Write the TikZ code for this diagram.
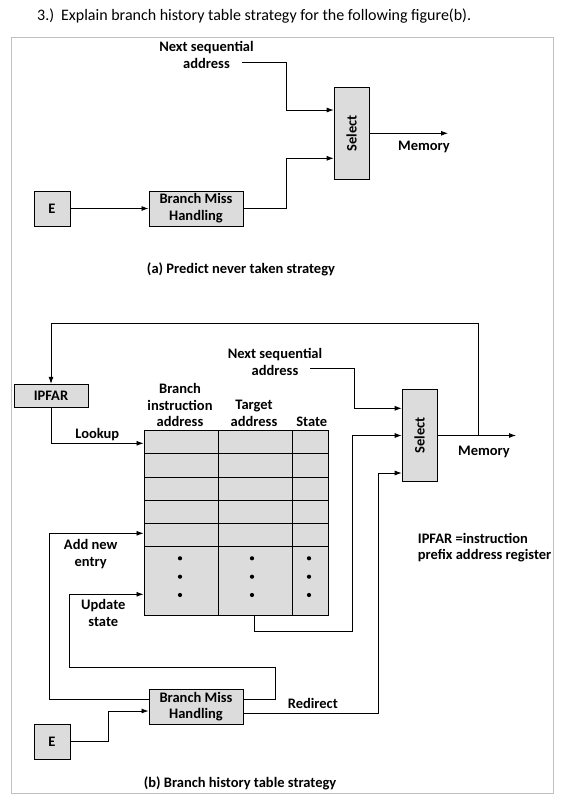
\documentclass[tikz,border=0pt]{standalone}
\usepackage{fontspec}
\setmainfont{Carlito}
\usetikzlibrary{arrows.meta,positioning,calc}
\definecolor{boxgray}{RGB}{220,220,220}
\definecolor{framegray}{RGB}{192,192,192}
\newcommand\lblfont{\bfseries\fontsize{14.5}{16.8}\selectfont}
\begin{document}
\begin{tikzpicture}[x=1pt,y=1pt,
    blk/.style={draw, line width=1pt, fill=boxgray, inner sep=0pt, align=center, font=\lblfont},
    lbl/.style={inner sep=0pt, align=center, font=\lblfont},
    wire/.style={line width=0.8pt},
    arr/.style={wire, -{Latex[length=7pt,width=5pt]}}]
      \useasboundingbox (0,0) rectangle (561,-801);
      \node[anchor=west, inner sep=0pt, font=\fontsize{16}{18}\selectfont] (title) at (37,-16)
        {3.)\hspace{7pt}Explain branch history table strategy for the following figure(b).};
      \draw[framegray, line width=1pt] (11,-37) rectangle (553,-793);

      % (a) predict never taken
      \node[blk, minimum width=36, minimum height=35] (Ea) at (52,-208.5) {E};
      \node[blk, minimum width=94, minimum height=35] (bmha) at (196,-208.5) {Branch Miss\\Handling};
      \node[blk, minimum width=35, minimum height=92] (sela) at (351.7,-133.3) {\rotatebox{90}{Select}};
      \node[lbl] (nsa) at (206.5,-54.7) {Next sequential\\address};
      \node[lbl] (mema) at (424,-147.3) {Memory};
      \node[lbl] (capa) at (241,-269.3) {(a) Predict never taken strategy};
      \coordinate (nsaout) at (242,-62);
      \coordinate (memouta) at (448,-133.3);

      \draw[arr] (Ea) -- (bmha);
      \draw[arr] (nsaout) -- ++(44.3,0) |- ([yshift=23.3]sela.west);
      \draw[arr] (bmha.east) -- ++(43.3,0) |- ([yshift=-25]sela.west);
      \draw[arr] (sela.east) -- (memouta);

      % (b) branch history table
      \node[blk, minimum width=74, minimum height=23] (ipfar) at (51,-395.8) {IPFAR};
      \node[blk, minimum width=184, minimum height=185] (bht) at (236,-522.5) {};
      \foreach \y in {453.3,477.3,500,523.3,546.7}
        \draw[line width=1pt] (144,-\y) -- (328,-\y);
      \foreach \x in {218.3,292.3}
        \draw[line width=1pt] (\x,-430) -- (\x,-615);
      \foreach \x in {180,252,309}
        \foreach \y in {558.3,576.7,595}
          \fill (\x,-\y) circle (2.1);
      \node[lbl] (hbia) at (180,-405) {Branch\\instruction\\address};
      \node[lbl] (hta) at (254,-413.3) {Target\\address};
      \node[lbl] (hst) at (311.8,-421.7) {State};
      \node[blk, minimum width=35, minimum height=92] (selb) at (419.7,-435.5) {\rotatebox{90}{Select}};
      \node[lbl] (nsb) at (275,-362) {Next sequential\\address};
      \node[lbl] (memb) at (484,-452.3) {Memory};
      \node[blk, minimum width=94, minimum height=35] (bmhb) at (196,-706.7) {Branch Miss\\Handling};
      \node[blk, minimum width=36, minimum height=35] (Eb) at (52,-741.7) {E};
      \node[lbl] (lookup) at (97.3,-434.3) {Lookup};
      \node[lbl] (addnew) at (90.7,-553.7) {Add new\\entry};
      \node[lbl] (upd) at (103.3,-613) {Update\\state};
      \node[lbl] (redir) at (312.8,-703.3) {Redirect};
      \node[lbl, anchor=west, align=left] (note) at (417.7,-547.6) {IPFAR =instruction\\prefix address register};
      \node[lbl] (capb) at (240,-783.3) {(b) Branch history table strategy};
      \coordinate (nsbout) at (310,-368.3);
      \coordinate (memoutb) at (516,-435.5);
      \coordinate (tapb) at (478.3,-435.5);

      \draw[arr] (selb.east) -- (memoutb);
      \draw[arr] (tapb) -- (tapb |- 0,-323.3) -| (ipfar.north);
      \draw[arr] (nsbout) -- ++(44,0) |- ([yshift=27.2]selb.west);
      \draw[arr] (ipfar.south) |- (bht.west |- 0,-443.3);
      \draw[arr] (bht.south -| 254,0) |- (352.3,-631) |- (selb.west);
      \draw[arr] ([yshift=-6.6]bmhb.east) -- ++(135.3,0) |- ([yshift=-37.5]selb.west);
      \draw[arr] ([yshift=7.7]bmhb.west) -- ++(-99,0) |- (bht.west |- 0,-533.3);
      \draw[arr] ([yshift=7.7]bmhb.east) -- ++(32.3,0) -- ++(0,31.3) -| (69.3,-594.3) -- (bht.west |- 0,-594.3);
      \draw[arr] (Eb.east) -- ++(38.3,0) |- ([yshift=-4.3]bmhb.west);
    \end{tikzpicture}
\end{document}
